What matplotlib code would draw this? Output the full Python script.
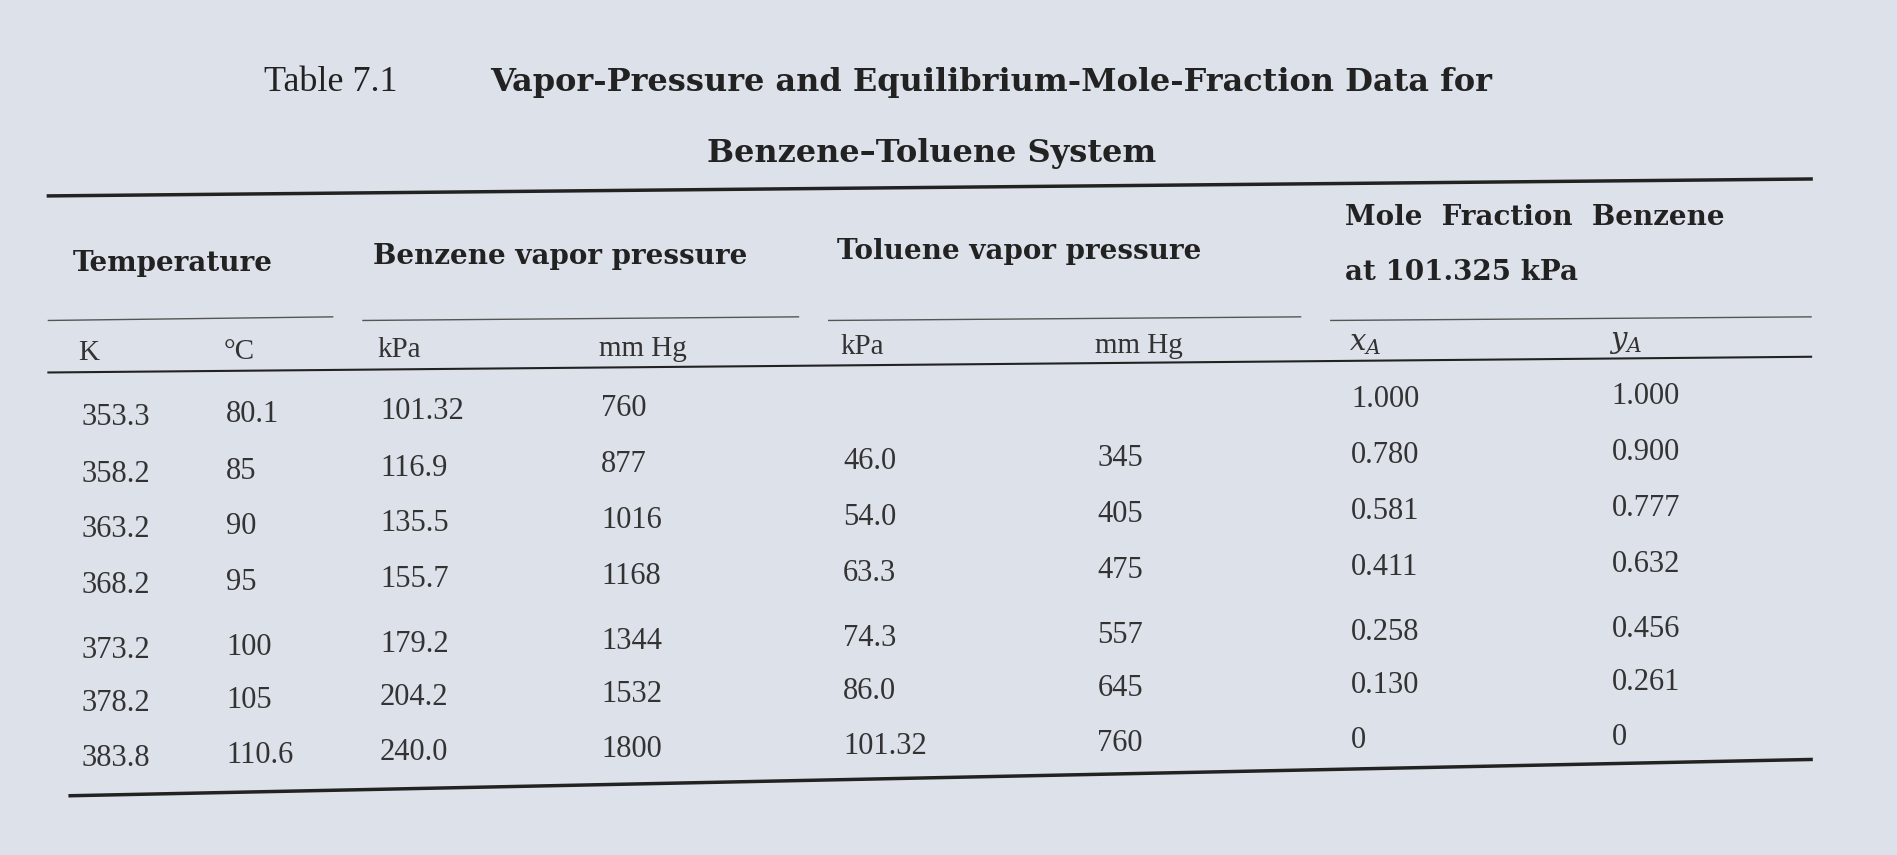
import matplotlib.pyplot as plt

plt.rcParams['font.family'] = ['Liberation Serif', 'DejaVu Serif']
plt.rcParams['mathtext.fontset'] = 'dejavuserif'

temp_K = ['353.3', '358.2', '363.2', '368.2', '373.2', '378.2', '383.8']
temp_C = ['80.1', '85', '90', '95', '100', '105', '110.6']
benz_kpa = ['101.32', '116.9', '135.5', '155.7', '179.2', '204.2', '240.0']
benz_mm = ['760', '877', '1016', '1168', '1344', '1532', '1800']
tol_kpa = ['', '46.0', '54.0', '63.3', '74.3', '86.0', '101.32']
tol_mm = ['', '345', '405', '475', '557', '645', '760']
x_A = ['1.000', '0.780', '0.581', '0.411', '0.258', '0.130', '0']
y_A = ['1.000', '0.900', '0.777', '0.632', '0.456', '0.261', '0']

sub_headers = ['K', '°C', 'kPa', 'mm Hg', 'kPa', 'mm Hg', '$x_A$', '$y_A$']
col_x = [65, 185, 312, 495, 695, 905, 1115, 1330]
row_y = [345, 392, 438, 484, 538, 582, 627]

W, H = 1568, 707
fig = plt.figure(figsize=(18.97, 8.55), dpi=100)
fig.patch.set_facecolor('#dde2ea')
ax = fig.add_axes([0, 0, 1, 1])
ax.set_xlim(0, W)
ax.set_ylim(H, 0)
ax.axis('off')

fs = 22
bold = dict(fontweight='bold', family='DejaVu Serif', va='center', color='#222')
ax.text(218, 68, 'Table 7.1', fontsize=fs + 4, va='center', color='#222')
ax.text(405, 68, 'Vapor-Pressure and Equilibrium-Mole-Fraction Data for',
        fontsize=fs + 1, **bold)
ax.text(770, 127, 'Benzene–Toluene System', fontsize=fs + 1, ha='center', **bold)

ax.plot([40, 1497], [162, 148], color='#222', lw=2.5)
ax.plot([40, 1497], [308, 295], color='#222', lw=1.5)
ax.plot([58, 1497], [658, 628], color='#222', lw=2.5)

for x0, x1 in [(40, 275), (300, 660), (685, 1075), (1100, 1497)]:
    ax.plot([x0, x1], [265, 262], color='#555', lw=1)

hf = fs - 2
ax.text(60, 218, 'Temperature', fontsize=hf, **bold)
ax.text(308, 212, 'Benzene vapor pressure', fontsize=hf, **bold)
ax.text(692, 208, 'Toluene vapor pressure', fontsize=hf, **bold)
ax.text(1112, 180, 'Mole  Fraction  Benzene', fontsize=hf, **bold)
ax.text(1112, 225, 'at 101.325 kPa', fontsize=hf, **bold)

for i, h in enumerate(sub_headers):
    ax.text(col_x[i], 292 - i * 1.2, h, fontsize=fs - 1, va='center', color='#333')

cols = [temp_K, temp_C, benz_kpa, benz_mm, tol_kpa, tol_mm, x_A, y_A]
for c, vals in enumerate(cols):
    for r, v in enumerate(vals):
        ax.text(col_x[c] + 2, row_y[r] - c * 2.5, v, fontsize=fs, va='center', color='#333')

fig.savefig('out.png', dpi=100, facecolor=fig.get_facecolor())
